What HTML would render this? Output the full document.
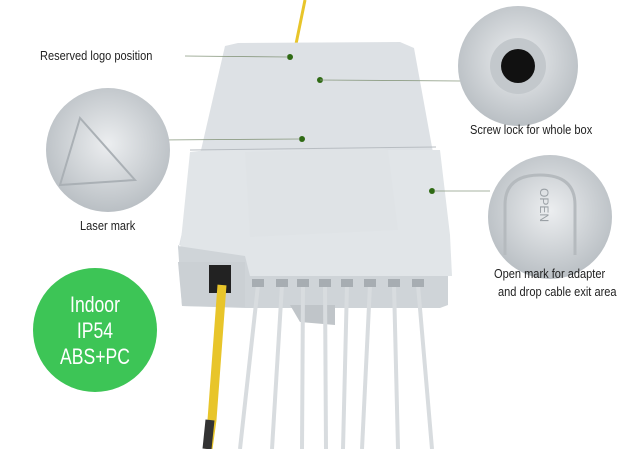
<!DOCTYPE html>
<html><head><meta charset="utf-8"><style>
body{margin:0;width:644px;height:449px;background:#fff;overflow:hidden;position:relative;font-family:"Liberation Sans",sans-serif;}
.t{position:absolute;font-size:13px;color:#222;white-space:nowrap;transform:scaleX(0.85);transform-origin:left top;}
</style></head><body>
<svg width="644" height="449" style="position:absolute;left:0;top:0">
<defs>
<radialGradient id="g1" cx="50%" cy="45%" r="60%"><stop offset="0" stop-color="#eceef0"/><stop offset="1" stop-color="#b5bbc0"/></radialGradient>
</defs>
<line x1="305" y1="0" x2="296" y2="44" stroke="#e8c52a" stroke-width="3"/>
<polygon points="238,43 400,42 414,48 448,235 448,250 245,255 178,245 178,250 225,46" fill="#dde1e5"/>
<polygon points="208,150 440,150 450,235 452,276 240,278 180,250 190,152" fill="#e1e5e8"/>
<polygon points="245,152 380,148 388,150 398,230 250,237" fill="#dfe3e6"/>
<line x1="190" y1="150" x2="436" y2="147" stroke="#b8bdc2" stroke-width="1"/>
<polygon points="178,246 245,256 250,276 448,276 448,305 440,308 245,308 182,306" fill="#cfd4d8"/>
<polygon points="178,262 245,262 245,307 182,306" fill="#cbd0d4"/>
<rect x="209" y="265" width="22" height="28" fill="#222"/>
<polygon points="290,305 335,305 335,325 300,322" fill="#c0c5c9"/>
<g fill="#2f6a14"><circle cx="290" cy="57" r="3"/><circle cx="320" cy="80" r="3"/><circle cx="302" cy="139" r="3"/><circle cx="432" cy="191" r="3"/></g>
<g stroke="#8a9a80" stroke-width="0.8">
<line x1="185" y1="56" x2="288" y2="57"/><line x1="320" y1="80" x2="460" y2="81"/>
<line x1="160" y1="140" x2="300" y2="139"/><line x1="434" y1="191" x2="490" y2="191"/></g>
<g stroke="#d8dcdf" stroke-width="4">
<line x1="258" y1="285" x2="240" y2="449"/><line x1="282" y1="285" x2="272" y2="449"/>
<line x1="303" y1="285" x2="302" y2="449"/><line x1="325" y1="285" x2="326" y2="449"/>
<line x1="347" y1="285" x2="343" y2="449"/><line x1="370" y1="285" x2="362" y2="449"/>
<line x1="394" y1="285" x2="398" y2="449"/><line x1="418" y1="285" x2="432" y2="449"/></g>
<g fill="#a7adb2"><rect x="252" y="279" width="12" height="8"/><rect x="276" y="279" width="12" height="8"/><rect x="297" y="279" width="12" height="8"/><rect x="319" y="279" width="12" height="8"/><rect x="341" y="279" width="12" height="8"/><rect x="364" y="279" width="12" height="8"/><rect x="388" y="279" width="12" height="8"/><rect x="412" y="279" width="12" height="8"/></g>
<polyline points="222,285 212,420 208,449" fill="none" stroke="#e8c52a" stroke-width="9"/>
<line x1="210" y1="420" x2="207" y2="449" stroke="#333" stroke-width="9"/>
<circle cx="108" cy="150" r="62" fill="url(#g1)"/>
<polygon points="80,118 135,180 60,185" fill="none" stroke="#aab0b5" stroke-width="2"/>
<circle cx="518" cy="66" r="60" fill="url(#g1)"/>
<circle cx="518" cy="66" r="28" fill="#c3c8cc"/><circle cx="518" cy="66" r="17" fill="#111"/>
<circle cx="550" cy="217" r="62" fill="url(#g1)"/>
<path d="M505,255 L505,205 Q505,175 540,175 Q575,175 575,205 L575,255" fill="none" stroke="#b5babe" stroke-width="3"/>
<text x="540" y="188" font-size="12" fill="#9aa0a5" transform="rotate(90 540 188)" font-family="Liberation Sans">OPEN</text>
<circle cx="95" cy="330" r="62" fill="#3dc556"/>
<g font-size="22" fill="#fff" text-anchor="middle" font-family="Liberation Sans">
<text x="95" y="312" transform="translate(95 0) scale(0.8 1) translate(-95 0)">Indoor</text>
<text x="95" y="338" transform="translate(95 0) scale(0.8 1) translate(-95 0)">IP54</text>
<text x="95" y="364" transform="translate(95 0) scale(0.8 1) translate(-95 0)">ABS+PC</text></g>
</svg>
<div class="t" style="left:40px;top:48px">Reserved logo position</div>
<div class="t" style="left:470px;top:122px">Screw lock for whole box</div>
<div class="t" style="left:80px;top:218px">Laser mark</div>
<div class="t" style="left:494px;top:266px">Open mark for adapter</div>
<div class="t" style="left:498px;top:284px">and drop cable exit area</div>
</body></html>
